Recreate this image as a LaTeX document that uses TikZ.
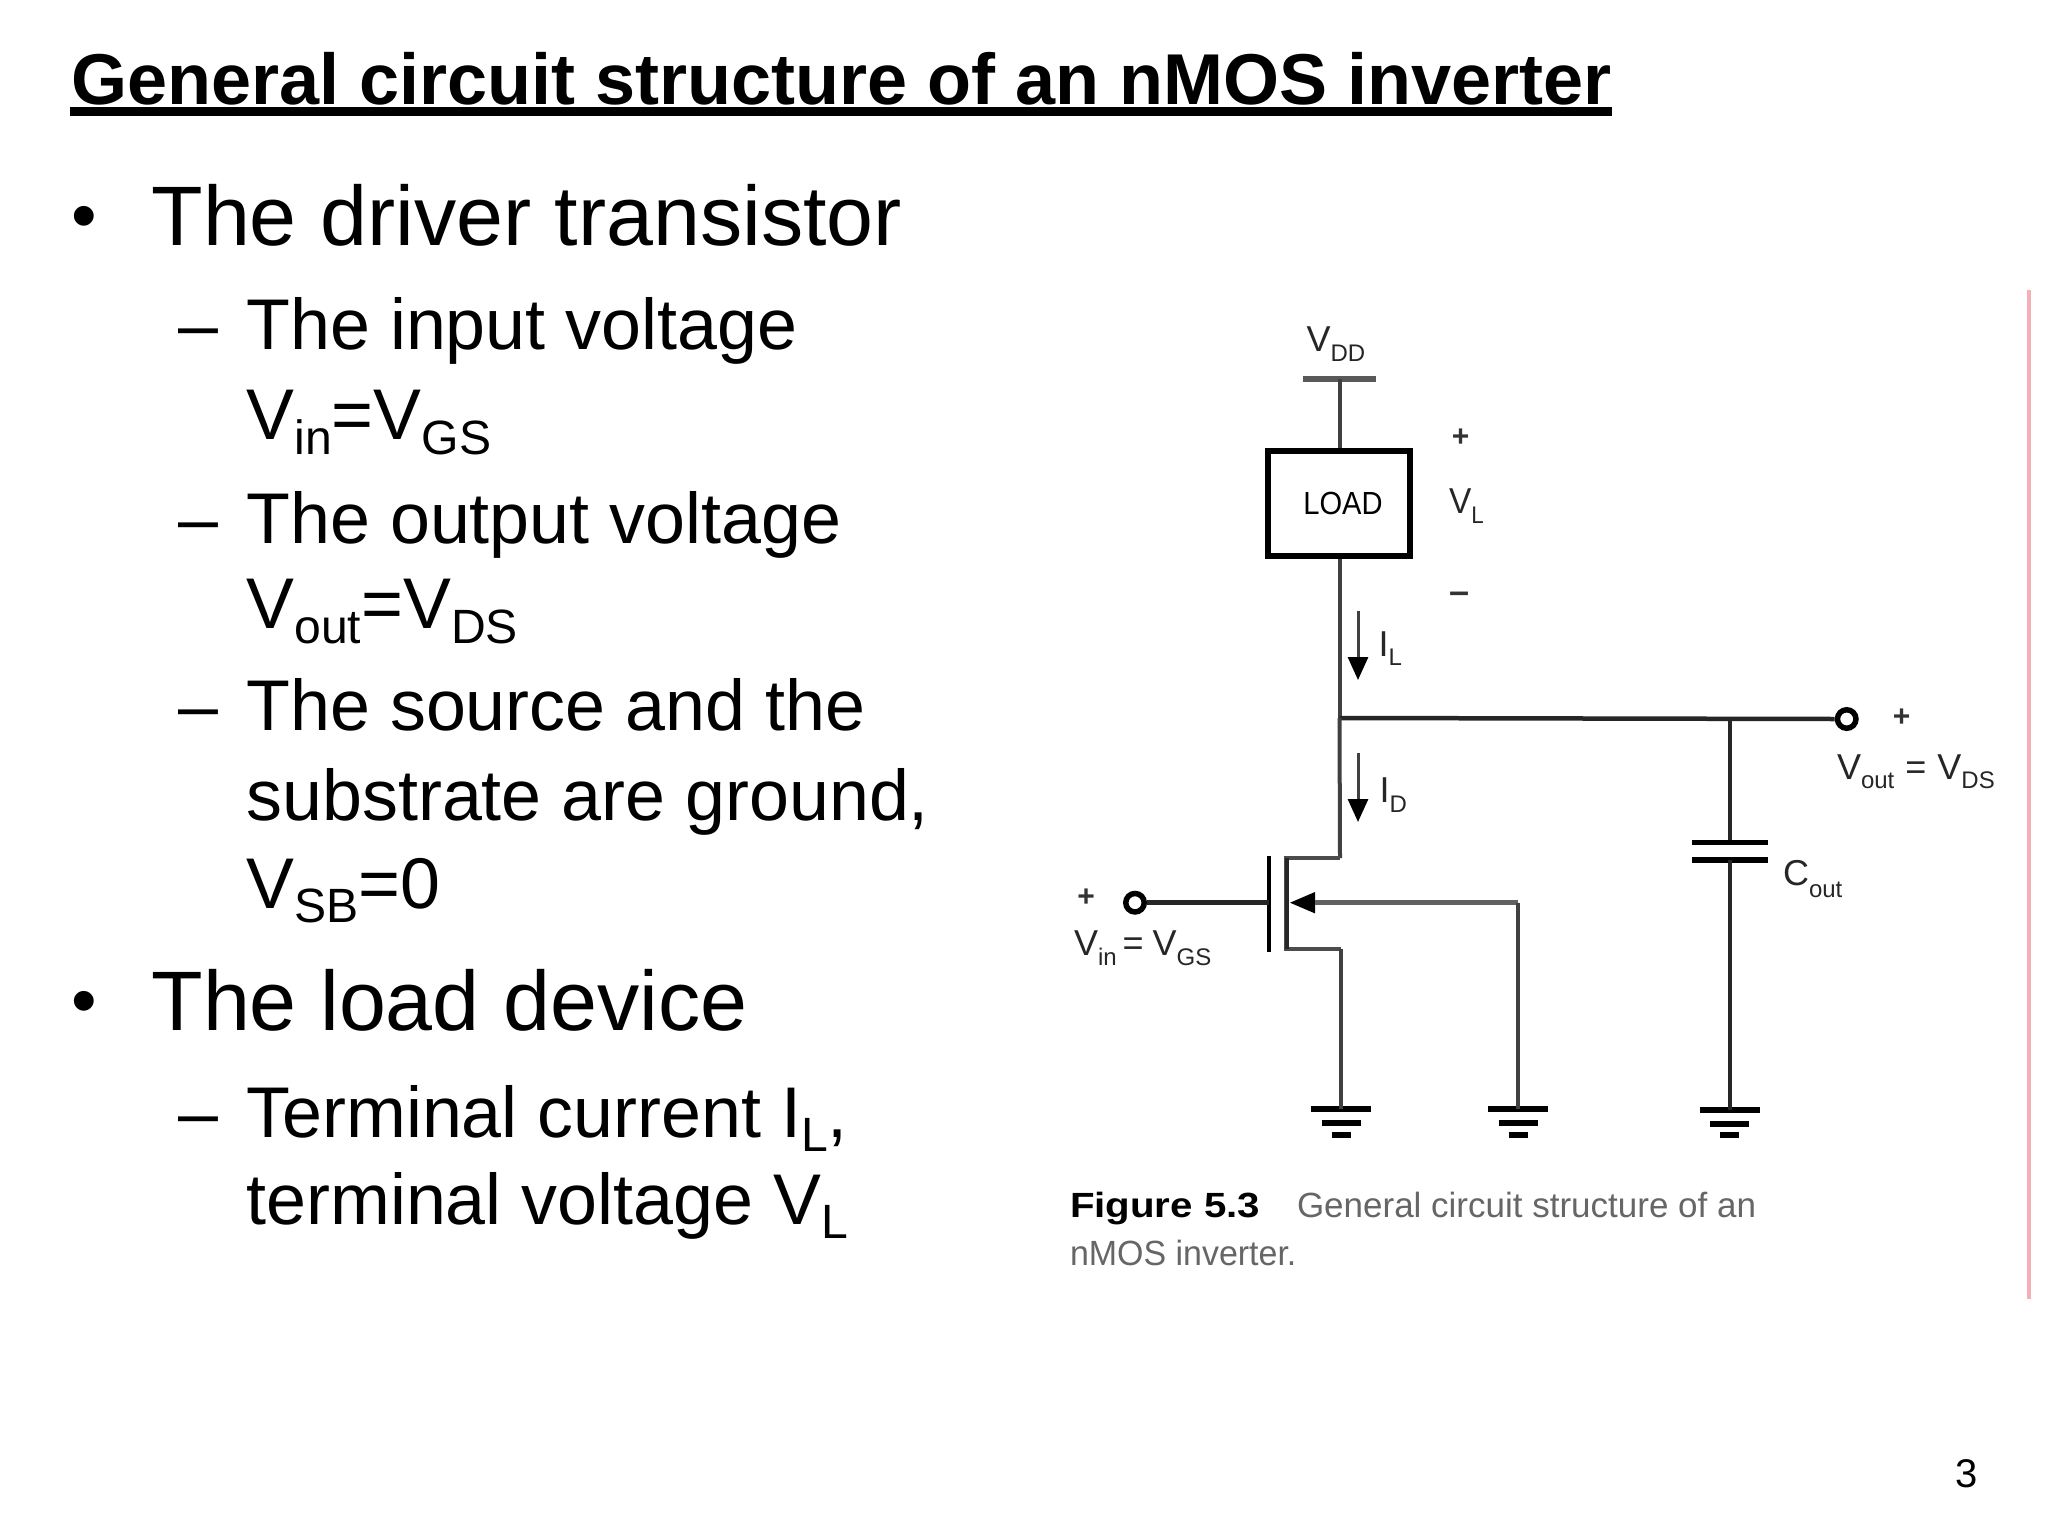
\documentclass[tikz,border=0pt]{standalone}
\usepackage{fontspec}
\setmainfont{Liberation Sans}
\usetikzlibrary{arrows.meta}
\newcommand{\fs}[1]{\fontsize{#1pt}{#1pt}\selectfont}
\newcommand{\dn}[2]{\raisebox{-#1pt}{\fontsize{0.67em}{1em}\selectfont #2}}
\newcommand{\sm}[2]{\raisebox{-#1pt}{\fontsize{24pt}{24pt}\selectfont #2}}
\tikzset{
 x=1pt,y=-1pt,
 txt/.style={anchor=base west,inner sep=0pt,outer sep=0pt,text=black},
 lone/.style={txt,font=\fs{84.4}},
 ltwo/.style={txt,font=\fs{71.8}},
 bull/.style={txt,font=\fs{73}},
 fig/.style={anchor=base west,inner sep=0pt,outer sep=0pt,text=black!85,font=\fs{36}},
 sign/.style={anchor=base,inner sep=0pt,outer sep=0pt,text=black!80,font=\fs{30}\bfseries},
 capt/.style={anchor=base west,inner sep=0pt,outer sep=0pt,text=black!60,font=\fs{35}},
 wire/.style={draw=black!75,line width=4pt},
 hwire/.style={draw=black!85,line width=4.5pt},
 bar/.style={draw=black,line width=5.5pt},
 gnd/.style={draw=black,line width=6pt},
 term/.style={circle,draw=black,line width=5.5pt,fill=white,minimum size=18.5pt,inner sep=0pt},
 cur/.style={draw=black!75,line width=3pt,-{Triangle[length=23pt,width=20pt,fill=black,color=black]}},
}
\begin{document}
\begin{tikzpicture}
\useasboundingbox (0,0) rectangle (2048,1539);
\fill[white] (0,0) rectangle (2048,1539);
% title
\node[txt,font=\fs{72}\bfseries] (title) at (71,104) {General circuit structure of an nMOS inverter};
\coordinate (ula) at (69.5,111); \coordinate (ulb) at (1612,111);
\draw[line width=9pt] (ula) -- (ulb);
% text
\node[bull] (b1) at (71.4,240.5) {•};
\node[lone] (t1) at (151.5,245.5) {The driver transistor};
\node[ltwo] (d1) at (178.5,349.5) {–};
\node[ltwo] (t2) at (246.5,349.5) {The input voltage};
\node[ltwo] (t3) at (246.5,439) {V\dn{15}{in}=V\dn{15}{GS}};
\node[ltwo] (d2) at (178.5,543) {–};
\node[ltwo] (t4) at (246.5,543) {The output voltage};
\node[ltwo] (t5) at (246.5,628) {V\dn{15}{out}=V\dn{15}{DS}};
\node[ltwo] (d3) at (178.5,730) {–};
\node[ltwo] (t6) at (246.5,730) {The source and the};
\node[ltwo] (t7) at (246.5,820) {substrate are ground,};
\node[ltwo] (t8) at (246.5,908) {V\dn{14}{SB}=0};
\node[bull] (b2) at (71.4,1025) {•};
\node[lone] (t9) at (151.5,1030) {The load device};
\node[ltwo] (d4) at (178.5,1137) {–};
\node[ltwo] (t10) at (246.5,1137) {Terminal current I\dn{14}{L},};
\node[ltwo] (t11) at (246.5,1224) {terminal voltage V\dn{14}{L}};
\node[txt,font=\fs{40}] (pg) at (1955,1487) {3};
% red edge
\coordinate (ra) at (2029.3,290); \coordinate (rb) at (2029.3,1299);
\draw[draw={rgb,255:red,244;green,176;blue,180},line width=4pt] (ra) -- (rb);
% circuit coordinates
\coordinate (vdda) at (1303,379); \coordinate (vddb) at (1376,379); \coordinate (vddm) at (1339.5,379);
\node[draw=black,line width=6pt,minimum width=142pt,minimum height=105pt,inner sep=0pt,font=\fs{32}] (load) at (1339,503.5) {\hspace*{8pt}\scalebox{.91}[1]{LOAD}};
\coordinate (j) at (1339.5,718);
\coordinate (capt) at (1729.5,718);
\node[term] (vout) at (1846.7,719) {};
\coordinate (dr) at (1340,858); \coordinate (drc) at (1286.7,858);
\coordinate (sr) at (1341,949); \coordinate (src) at (1286.7,949);
\coordinate (gta) at (1269.3,856); \coordinate (gtb) at (1269.3,952);
\node[term] (vin) at (1135,902.7) {};
\coordinate (gw) at (1269.3,902.7);
\coordinate (bodytip) at (1290,902.7);
\coordinate (bodyu) at (1315,892); \coordinate (bodyl) at (1315,913.4);
\coordinate (bodyc) at (1518,902.7);
% grounds
\foreach \n/\x/\ya/\yb in {g1/1341/1109/1122.7,g2/1518/1109/1122.7,g3/1729.5/1110/1123.7}{
  \coordinate (\n) at (\x,\ya);
  \draw[gnd] (\x-30,\ya) -- (\x+30,\ya);
  \draw[gnd] (\x-19.5,\yb) -- (\x+19.5,\yb);
  \draw[gnd] (\x-9.5,1135) -- (\x+9.5,1135);
}
% wires
\draw[bar,draw=black!65] (vdda) -- (vddb);
\draw[wire] (vddm) -- (vddm |- load.north);
\draw[wire] (load.south -| j) -- (j);
\draw[hwire] (j) -- (vout.west);
\draw[wire] (j) -- (dr);
\draw[hwire,draw=black!70,line join=miter] (dr) -- (drc) -- (src) -- (sr);
\draw[wire,draw=black!85] (drc) -- (src);
\draw[wire] (sr) -- (g1);
\coordinate (p1a) at (1692,842.7); \coordinate (p1b) at (1768,842.7); \coordinate (p1m) at (1729.5,842.7);
\coordinate (p2a) at (1692,860); \coordinate (p2b) at (1768,860); \coordinate (p2m) at (1729.5,860);
\draw[wire,draw=black!85] (capt) -- (p1m);
\draw[bar] (p1a) -- (p1b);
\draw[bar] (p2a) -- (p2b);
\draw[wire,draw=black!85] (p2m) -- (g3);
\draw[line width=4pt] (gta) -- (gtb);
\draw[hwire] (vin.east) -- (gw);
\fill (bodytip) -- (bodyu) -- (bodyl) -- cycle;
\draw[hwire,draw=black!62] (bodyu |- bodytip) -- (bodyc);
\draw[wire] (bodyc) -- (g2);
% current arrows
\coordinate (ila) at (1358,611); \coordinate (ilb) at (1358,680);
\coordinate (ida) at (1358,753); \coordinate (idb) at (1358,822);
\draw[cur] (ila) -- (ilb);
\draw[cur] (ida) -- (idb);
% labels
\node[fig] (lvdd) at (1306.5,351) {V\sm{10}{DD}};
\node[sign] (lp) at (1460.6,446) {+};
\node[sign,font=\fs{36}\bfseries] (lm) at (1459,603) {–};
\node[fig] (lvl) at (1449,513) {\scalebox{.93}[1]{V\sm{10}{L}}};
\node[fig] (lil) at (1378.5,656) {I\sm{9}{L}};
\node[fig] (lid) at (1379.5,802.5) {I\sm{10}{D}};
\node[sign] (lpo) at (1901.7,726.7) {+};
\node[fig] (lvo) at (1837,779) {V\sm{9}{out}\hspace{11pt}=\hspace{11pt}V\sm{9}{DS}};
\node[sign] (lpi) at (1086,906.7) {+};
\node[fig] (lvi) at (1074,955) {V\sm{10}{in}\hspace{6pt}=\hspace{9pt}V\sm{10}{GS}};
\node[fig] (lco) at (1783,885) {C\sm{12}{out}};
\node[capt,font=\fs{35}\bfseries,text=black] (cap1) at (1070,1217) {\scalebox{1.15}[1]{Figure 5.3}};
\node[capt] (cap2) at (1297,1217) {General circuit structure of an};
\node[capt] (cap3) at (1070,1265) {\scalebox{.97}[1]{nMOS inverter.}};
\end{tikzpicture}
\end{document}
